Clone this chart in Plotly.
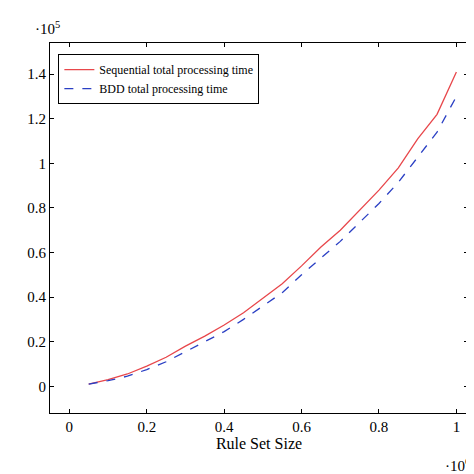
import plotly.graph_objects as go

rule_set_size = [0.05, 0.1, 0.15, 0.2, 0.25, 0.3, 0.35, 0.4, 0.45, 0.5, 0.55, 0.6, 0.65, 0.7, 0.75, 0.8, 0.85, 0.9, 0.95, 1.0]
seq_time = [0.01, 0.03, 0.055, 0.09, 0.13, 0.18, 0.225, 0.275, 0.33, 0.395, 0.46, 0.54, 0.625, 0.7, 0.79, 0.88, 0.98, 1.11, 1.22, 1.41]
bdd_time = [0.01, 0.025, 0.045, 0.075, 0.11, 0.155, 0.2, 0.245, 0.3, 0.36, 0.42, 0.5, 0.575, 0.65, 0.735, 0.82, 0.915, 1.03, 1.14, 1.3]

font = "Liberation Serif"
fig = go.Figure()
fig.add_trace(go.Scatter(x=rule_set_size, y=seq_time, mode="lines",
                         line=dict(color="#e8474b", width=1.3),
                         name="Sequential total processing time"))
fig.add_trace(go.Scatter(x=rule_set_size, y=bdd_time, mode="lines",
                         line=dict(color="#2a3fc4", width=1.3, dash="dash"),
                         name="BDD total processing time"))

axis_common = dict(showgrid=False, zeroline=False, showline=True, linecolor="black",
                   linewidth=1, mirror="ticks", ticks="inside", ticklen=4,
                   tickcolor="black", tickfont=dict(size=15, family=font, color="black"))
fig.update_xaxes(range=[-0.05, 1.03], tickvals=[0, 0.2, 0.4, 0.6, 0.8, 1],
                 ticktext=["0", "0.2", "0.4", "0.6", "0.8", "1"],
                 title=dict(text="Rule Set Size", font=dict(size=16, family=font, color="black"), standoff=2),
                 **axis_common)
fig.update_yaxes(range=[-0.12, 1.54], tickvals=[0, 0.2, 0.4, 0.6, 0.8, 1, 1.2, 1.4],
                 ticktext=["0", "0.2", "0.4", "0.6", "0.8", "1", "1.2", "1.4"],
                 **axis_common)

fig.add_annotation(text="·10<sup>5</sup>", xref="paper", yref="paper", x=-0.04, y=1.01,
                   xanchor="left", yanchor="bottom", showarrow=False,
                   font=dict(size=15, family=font, color="black"))
fig.add_annotation(text="·10<sup>6</sup>", xref="paper", yref="paper", x=1.01, y=-0.11,
                   xanchor="right", yanchor="top", showarrow=False,
                   font=dict(size=15, family=font, color="black"))

fig.update_layout(width=474, height=474, plot_bgcolor="white", paper_bgcolor="white",
                  margin=dict(l=42, r=14, t=35, b=69),
                  legend=dict(x=0.02, y=0.97, xanchor="left", yanchor="top",
                              bordercolor="black", borderwidth=1, bgcolor="white",
                              font=dict(size=12, family=font, color="black"),
                              tracegroupgap=0, itemwidth=30))
fig.write_html("out.html")
